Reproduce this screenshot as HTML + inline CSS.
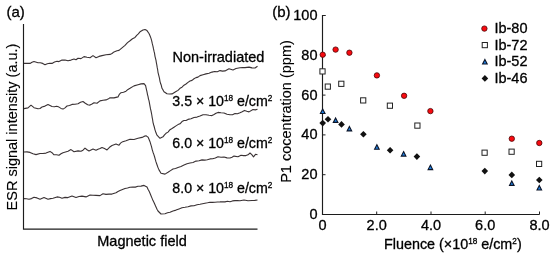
<!DOCTYPE html>
<html><head><meta charset="utf-8"><title>ESR figure</title>
<style>
html,body{margin:0;padding:0;background:#fff;}
body{width:550px;height:254px;overflow:hidden;}
svg{display:block;}
text{font-family:"Liberation Sans",Arial,sans-serif;font-size:14.5px;fill:#000;stroke:#000;stroke-width:0.3px;}
.sup{font-size:8.2px;}
.pl{font-size:15px;}
.lb{font-size:14.2px;}
.rot{stroke-width:0.12px;}
.lb .sup{font-size:8.2px;}
</style></head><body>
<svg width="550" height="254" viewBox="0 0 550 254">
<rect width="550" height="254" fill="#fff"/>
<!-- panel a -->
<text class="pl" x="6.5" y="17.1">(a)</text>
<path d="M23.5,24 V229.1 H257.5" fill="none" stroke="#1c1c1c" stroke-width="1.15"/>
<path d="M24.0,63.4 L27.0,63.2 L30.0,63.4 L32.0,62.3 L34.0,61.5 L38.0,62.7 L40.3,62.8 L42.7,63.4 L45.0,64.7 L47.3,63.7 L49.7,63.2 L52.0,63.4 L54.5,62.0 L57.0,61.3 L59.0,61.6 L62.0,60.1 L65.0,60.0 L68.0,60.7 L71.0,60.1 L74.0,59.0 L76.0,59.8 L78.0,58.2 L81.0,58.6 L84.0,56.6 L87.0,57.3 L90.0,57.8 L93.0,55.6 L96.0,57.7 L99.0,56.4 L102.0,55.6 L106.0,54.7 L110.0,54.4 L112.0,53.5 L114.0,51.9 L117.0,50.7 L119.0,50.4 L122.0,47.9 L125.0,45.3 L127.5,42.6 L130.0,40.7 L132.5,38.7 L135.0,37.4 L136.7,35.3 L138.3,33.8 L140.0,31.8 L143.0,30.0 L145.0,29.5 L147.0,30.6 L149.0,33.5 L150.0,35.8 L151.0,38.4 L151.7,40.8 L152.3,43.7 L153.0,46.3 L153.5,48.9 L154.0,51.2 L154.5,53.2 L155.0,56.3 L156.0,60.4 L156.4,62.8 L156.8,64.9 L157.2,67.4 L157.6,69.3 L158.0,72.3 L158.5,74.3 L159.0,76.3 L159.5,78.4 L160.0,81.3 L160.7,83.8 L161.3,85.3 L162.0,88.3 L163.0,89.9 L164.0,91.7 L167.0,93.8 L169.5,94.0 L172.0,93.9 L176.0,91.6 L178.0,90.4 L180.0,88.3 L182.0,87.2 L184.0,85.2 L186.0,84.0 L188.0,82.4 L190.0,81.0 L192.0,80.4 L194.0,78.8 L196.0,77.6 L198.0,77.1 L200.0,75.6 L203.0,74.7 L206.0,73.9 L209.0,73.3 L212.0,72.1 L214.7,71.5 L217.3,71.7 L220.0,70.6 L222.5,71.1 L225.0,70.9 L229.0,68.7 L233.0,70.0 L236.0,68.5 L240.0,67.7 L242.5,67.6 L245.0,67.6 L249.0,67.1 L252.0,67.9 L255.0,68.0 L257.5,66.2" fill="none" stroke="#3a3234" stroke-width="1.1" stroke-linejoin="round"/>
<path d="M24.0,108.6 L28.0,107.9 L31.0,105.2 L34.0,107.7 L38.0,108.8 L40.0,108.5 L42.0,107.0 L45.0,106.1 L48.0,104.5 L52.0,106.5 L54.3,106.8 L56.7,106.3 L59.0,107.1 L61.0,108.4 L63.0,109.1 L65.0,107.9 L67.0,106.0 L69.5,105.5 L72.0,104.4 L75.0,104.2 L78.0,103.7 L80.5,102.2 L83.0,101.5 L85.3,103.3 L87.7,104.8 L90.0,105.1 L92.0,104.0 L94.0,102.7 L97.0,103.2 L100.0,100.9 L103.0,100.3 L106.0,99.9 L108.0,99.1 L110.0,97.8 L114.0,97.9 L118.0,96.9 L119.5,94.1 L121.0,92.7 L123.5,92.3 L126.0,91.2 L128.0,89.4 L130.0,88.3 L134.0,85.9 L138.0,84.7 L141.0,83.9 L144.0,83.6 L145.6,85.6 L146.3,88.8 L147.0,91.8 L147.5,94.6 L148.0,96.4 L148.5,99.1 L149.0,100.6 L149.5,103.3 L150.0,106.2 L150.5,108.9 L151.0,110.9 L151.4,112.9 L151.8,115.0 L152.2,117.6 L152.6,119.5 L153.0,122.3 L153.7,125.0 L154.3,127.0 L155.0,129.8 L156.0,132.8 L157.0,135.2 L160.0,138.3 L163.0,136.8 L164.5,134.8 L166.0,133.3 L168.0,132.1 L170.0,129.7 L172.0,128.5 L174.0,127.2 L176.0,125.9 L178.0,124.6 L180.0,123.8 L182.0,121.6 L184.0,120.5 L186.0,120.5 L188.0,119.4 L191.0,118.8 L194.0,117.5 L197.0,117.1 L200.0,116.1 L203.0,114.7 L206.0,114.7 L209.0,115.3 L212.0,115.6 L214.0,114.5 L216.0,113.3 L218.0,112.4 L221.0,112.8 L224.0,113.0 L227.0,114.3 L230.0,114.8 L232.5,114.8 L235.0,113.5 L237.5,113.7 L240.0,112.7 L242.2,111.7 L244.5,110.4 L246.8,111.3 L249.0,111.9 L253.0,109.5 L255.2,109.9 L257.5,109.2" fill="none" stroke="#3a3234" stroke-width="1.1" stroke-linejoin="round"/>
<path d="M24.0,152.0 L27.0,151.9 L30.0,152.4 L33.0,153.8 L36.0,154.6 L40.0,153.5 L43.0,153.5 L46.0,153.1 L50.0,151.4 L52.0,152.7 L54.0,154.8 L56.5,154.7 L59.0,155.3 L61.0,153.8 L63.0,152.7 L65.5,152.0 L68.0,151.3 L71.0,149.6 L74.0,151.7 L78.0,150.9 L81.0,151.3 L83.0,150.2 L85.0,148.1 L87.0,149.7 L89.0,151.0 L93.0,149.1 L96.0,150.3 L98.0,149.3 L100.0,148.6 L102.0,147.5 L104.5,148.6 L107.0,149.9 L109.5,147.3 L112.0,145.5 L116.0,144.0 L119.0,145.2 L120.5,143.1 L122.0,142.1 L126.0,140.8 L130.0,139.3 L134.0,139.5 L138.0,138.2 L142.0,137.4 L144.0,136.4 L146.0,135.8 L148.0,137.1 L149.0,139.3 L150.0,141.7 L150.8,144.3 L151.5,146.6 L152.2,149.6 L153.0,152.2 L153.8,154.4 L154.5,156.5 L155.2,159.1 L156.0,161.9 L157.0,164.8 L158.0,167.6 L159.0,169.9 L161.0,173.3 L165.0,174.1 L168.0,172.3 L170.5,170.6 L173.0,169.0 L175.5,168.5 L178.0,167.5 L181.0,166.5 L184.0,165.0 L187.0,163.7 L190.0,163.0 L193.0,162.5 L196.0,161.1 L199.0,160.7 L202.0,159.9 L204.7,160.1 L207.3,159.8 L210.0,158.9 L212.7,158.8 L215.3,158.0 L218.0,156.7 L221.0,157.2 L224.0,157.0 L227.0,157.9 L230.0,158.0 L232.0,157.2 L234.0,156.1 L238.0,156.7 L241.0,155.3 L243.5,155.6 L246.0,155.6 L248.0,154.8 L250.0,153.0 L251.8,154.6 L253.5,156.8 L255.5,154.3 L257.5,154.8" fill="none" stroke="#3a3234" stroke-width="1.1" stroke-linejoin="round"/>
<path d="M24.0,198.6 L26.5,198.8 L29.0,199.2 L31.5,198.6 L34.0,197.2 L37.0,197.9 L40.0,199.2 L44.0,197.4 L48.0,199.2 L50.5,198.6 L53.0,198.2 L57.0,196.9 L59.5,197.3 L62.0,198.2 L65.0,197.4 L68.0,197.6 L72.0,196.0 L76.0,197.5 L79.0,196.5 L82.0,196.1 L86.0,196.9 L90.0,195.1 L93.0,195.3 L96.0,195.4 L100.0,195.6 L103.0,193.8 L106.0,194.4 L109.0,194.1 L112.0,194.1 L116.0,192.8 L118.0,191.5 L120.0,190.5 L122.5,189.5 L125.0,188.5 L127.5,188.0 L130.0,187.2 L132.7,187.1 L135.3,187.1 L138.0,186.3 L141.0,186.1 L144.0,185.4 L147.0,187.1 L148.0,189.2 L149.0,191.1 L150.0,193.3 L151.0,195.7 L152.0,198.1 L153.0,200.6 L154.0,202.5 L155.0,204.8 L156.0,207.1 L157.0,209.2 L158.0,211.0 L161.0,214.0 L165.0,213.7 L167.5,212.8 L170.0,212.3 L173.0,211.0 L176.0,210.1 L179.0,208.9 L182.0,207.8 L185.0,207.3 L188.0,206.7 L191.0,205.9 L194.0,205.7 L197.0,204.7 L200.0,204.2 L202.5,203.7 L205.0,203.2 L207.5,202.8 L210.0,202.3 L212.5,202.4 L215.0,202.2 L217.5,202.0 L220.0,201.9 L222.5,201.7 L225.0,201.9 L227.5,201.3 L230.0,201.7 L232.5,200.9 L235.0,200.6 L237.5,200.5 L240.0,200.7 L244.0,200.0 L248.0,200.8 L252.0,200.5 L254.8,200.4 L257.5,200.0" fill="none" stroke="#3a3234" stroke-width="1.1" stroke-linejoin="round"/>

<text class="rot" transform="translate(17,127) rotate(-90)" text-anchor="middle">ESR signal intensity (a.u.)</text>
<text x="142" y="245.7" text-anchor="middle">Magnetic field</text>
<text x="172.5" y="61.6">Non-irradiated</text>
<text class="lb" x="172.3" y="105.6">3.5 × 10<tspan class="sup" dy="-5">18</tspan><tspan dy="5"> e/cm</tspan><tspan class="sup" dy="-5">2</tspan></text>
<text class="lb" x="172.3" y="147.5">6.0 × 10<tspan class="sup" dy="-5">18</tspan><tspan dy="5"> e/cm</tspan><tspan class="sup" dy="-5">2</tspan></text>
<text class="lb" x="172.3" y="192.5">8.0 × 10<tspan class="sup" dy="-5">18</tspan><tspan dy="5"> e/cm</tspan><tspan class="sup" dy="-5">2</tspan></text>
<!-- panel b -->
<text class="pl" x="272.2" y="17.3">(b)</text>
<path d="M325.5,15.5 H322.5 V214.5 H539.5" fill="none" stroke="#1c1c1c" stroke-width="1.15"/>
<line x1="322.5" y1="174.7" x2="325.5" y2="174.7" stroke="#222" stroke-width="1"/><line x1="322.5" y1="134.9" x2="325.5" y2="134.9" stroke="#222" stroke-width="1"/><line x1="322.5" y1="95.1" x2="325.5" y2="95.1" stroke="#222" stroke-width="1"/><line x1="322.5" y1="55.3" x2="325.5" y2="55.3" stroke="#222" stroke-width="1"/><line x1="322.5" y1="15.5" x2="325.5" y2="15.5" stroke="#222" stroke-width="1"/><line x1="376.7" y1="214.5" x2="376.7" y2="211.5" stroke="#222" stroke-width="1"/><line x1="431.0" y1="214.5" x2="431.0" y2="211.5" stroke="#222" stroke-width="1"/><line x1="485.2" y1="214.5" x2="485.2" y2="211.5" stroke="#222" stroke-width="1"/><line x1="539.5" y1="214.5" x2="539.5" y2="211.5" stroke="#222" stroke-width="1"/>
<text x="317.5" y="218.9" text-anchor="end">0</text><text x="317.5" y="179.1" text-anchor="end">20</text><text x="317.5" y="139.3" text-anchor="end">40</text><text x="317.5" y="99.5" text-anchor="end">60</text><text x="317.5" y="59.7" text-anchor="end">80</text><text x="317.5" y="19.9" text-anchor="end">100</text>
<text x="322.5" y="230.0" text-anchor="middle">0</text><text x="376.7" y="230.0" text-anchor="middle">2.0</text><text x="431.0" y="230.0" text-anchor="middle">4.0</text><text x="485.2" y="230.0" text-anchor="middle">6.0</text><text x="539.5" y="230.0" text-anchor="middle">8.0</text>
<text class="rot" transform="translate(291,111.5) rotate(-90)" text-anchor="middle">P1 cocentration (ppm)</text>
<text x="384" y="248.6" style="font-size:14.35px">Fluence (×10<tspan class="sup" dy="-5">18</tspan><tspan dy="5"> e/cm</tspan><tspan class="sup" dy="-5">2</tspan><tspan dy="5">)</tspan></text>
<rect x="319.9" y="68.8" width="5.2" height="5.2" fill="#fff" stroke="#222" stroke-width="1"/>
<rect x="325.2" y="84.0" width="5.2" height="5.2" fill="#fff" stroke="#222" stroke-width="1"/>
<rect x="338.7" y="81.2" width="5.2" height="5.2" fill="#fff" stroke="#222" stroke-width="1"/>
<rect x="360.6" y="97.8" width="5.2" height="5.2" fill="#fff" stroke="#222" stroke-width="1"/>
<rect x="387.3" y="103.1" width="5.2" height="5.2" fill="#fff" stroke="#222" stroke-width="1"/>
<rect x="414.8" y="123.0" width="5.2" height="5.2" fill="#fff" stroke="#222" stroke-width="1"/>
<rect x="482.0" y="150.1" width="5.2" height="5.2" fill="#fff" stroke="#222" stroke-width="1"/>
<rect x="509.0" y="149.1" width="5.2" height="5.2" fill="#fff" stroke="#222" stroke-width="1"/>
<rect x="536.5" y="161.3" width="5.2" height="5.2" fill="#fff" stroke="#222" stroke-width="1"/>
<path d="M322.7,109.0 L325.0,113.5 L320.4,113.5 Z" fill="#1f80e2" stroke="#0b1326" stroke-width="1.1" stroke-linejoin="miter"/>
<path d="M335.6,117.9 L337.9,122.4 L333.3,122.4 Z" fill="#1f80e2" stroke="#0b1326" stroke-width="1.1" stroke-linejoin="miter"/>
<path d="M349.4,126.4 L351.7,130.9 L347.1,130.9 Z" fill="#1f80e2" stroke="#0b1326" stroke-width="1.1" stroke-linejoin="miter"/>
<path d="M376.9,144.8 L379.2,149.3 L374.6,149.3 Z" fill="#1f80e2" stroke="#0b1326" stroke-width="1.1" stroke-linejoin="miter"/>
<path d="M403.6,151.6 L405.9,156.1 L401.3,156.1 Z" fill="#1f80e2" stroke="#0b1326" stroke-width="1.1" stroke-linejoin="miter"/>
<path d="M430.4,165.1 L432.7,169.6 L428.1,169.6 Z" fill="#1f80e2" stroke="#0b1326" stroke-width="1.1" stroke-linejoin="miter"/>
<path d="M511.8,180.9 L514.1,185.4 L509.5,185.4 Z" fill="#1f80e2" stroke="#0b1326" stroke-width="1.1" stroke-linejoin="miter"/>
<path d="M539.3,185.5 L541.6,190.0 L537.0,190.0 Z" fill="#1f80e2" stroke="#0b1326" stroke-width="1.1" stroke-linejoin="miter"/>
<path d="M322.7,119.8 L326.0,123.1 L322.7,126.4 L319.4,123.1 Z" fill="#111"/>
<path d="M328.0,116.0 L331.3,119.3 L328.0,122.6 L324.7,119.3 Z" fill="#111"/>
<path d="M341.5,121.1 L344.8,124.4 L341.5,127.7 L338.2,124.4 Z" fill="#111"/>
<path d="M363.4,130.9 L366.7,134.2 L363.4,137.5 L360.1,134.2 Z" fill="#111"/>
<path d="M390.1,147.0 L393.4,150.3 L390.1,153.6 L386.8,150.3 Z" fill="#111"/>
<path d="M416.9,153.3 L420.2,156.6 L416.9,159.9 L413.6,156.6 Z" fill="#111"/>
<path d="M484.8,167.8 L488.1,171.1 L484.8,174.4 L481.5,171.1 Z" fill="#111"/>
<path d="M511.8,171.6 L515.1,174.9 L511.8,178.2 L508.5,174.9 Z" fill="#111"/>
<path d="M539.3,176.7 L542.6,180.0 L539.3,183.3 L536.0,180.0 Z" fill="#111"/>
<circle cx="322.7" cy="54.7" r="2.7" fill="#f80a10" stroke="#4a0606" stroke-width="0.8"/>
<circle cx="335.6" cy="49.6" r="2.7" fill="#f80a10" stroke="#4a0606" stroke-width="0.8"/>
<circle cx="349.4" cy="52.7" r="2.7" fill="#f80a10" stroke="#4a0606" stroke-width="0.8"/>
<circle cx="376.9" cy="75.4" r="2.7" fill="#f80a10" stroke="#4a0606" stroke-width="0.8"/>
<circle cx="404.1" cy="95.8" r="2.7" fill="#f80a10" stroke="#4a0606" stroke-width="0.8"/>
<circle cx="430.4" cy="111.1" r="2.7" fill="#f80a10" stroke="#4a0606" stroke-width="0.8"/>
<circle cx="511.8" cy="138.7" r="2.7" fill="#f80a10" stroke="#4a0606" stroke-width="0.8"/>
<circle cx="539.3" cy="143.0" r="2.7" fill="#f80a10" stroke="#4a0606" stroke-width="0.8"/>

<circle cx="484.4" cy="28.6" r="2.7" fill="#f80a10" stroke="#4a0606" stroke-width="0.8"/><rect x="482.2" y="42.5" width="5.2" height="5.2" fill="#fff" stroke="#222" stroke-width="1"/><path d="M484.9,59.5 L487.2,64.0 L482.6,64.0 Z" fill="#1f80e2" stroke="#0b1326" stroke-width="1.1" stroke-linejoin="miter"/><path d="M484.9,75.1 L488.2,78.4 L484.9,81.7 L481.6,78.4 Z" fill="#111"/>
<text x="494.4" y="32.9">Ib-80</text>
<text x="494.4" y="49.5">Ib-72</text>
<text x="494.4" y="66.1">Ib-52</text>
<text x="494.4" y="82.6">Ib-46</text>
</svg>
</body></html>
